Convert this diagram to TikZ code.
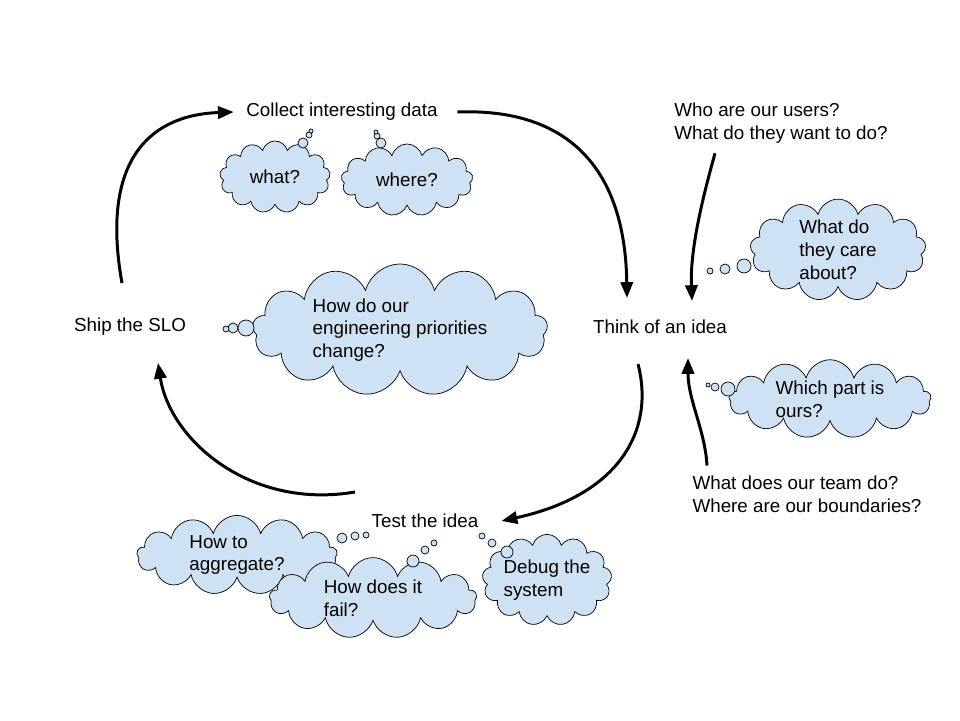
\documentclass[tikz,border=0pt]{standalone}
\usepackage{fontspec}
\setmainfont{Liberation Sans}
\usetikzlibrary{shapes.symbols,arrows.meta}
\definecolor{cloudblue}{HTML}{CFE2F3}
\tikzset{
  thought/.style={cloud, cloud puffs=13, cloud ignores aspect, draw=black, thin,
    fill=cloudblue, align=left, inner sep=0pt},
  bubble/.style={draw=black, thin, fill=cloudblue},
  flow/.style={line width=1.7pt, -{Triangle[length=9pt,width=7pt]}},
  label/.style={align=left, inner sep=1pt}
}
\begin{document}
\begin{tikzpicture}[x=0.02cm,y=-0.02cm,font=\fontsize{10.7}{13}\selectfont]
\useasboundingbox (0,0) rectangle (960,720);

% steps
\node[label] (collect) at (342,112) {Collect interesting data};
\node[label] (think) at (660,327) {Think of an idea};
\node[label] (test) at (425,521) {Test the idea};
\node[label] (ship) at (130,327) {Ship the SLO};
\node[label] (users) at (781,123) {Who are our users?\\What do they want to do?};
\node[label] (team) at (807,494) {What does our team do?\\Where are our boundaries?};

% clouds
\node[thought, minimum width=63pt, minimum height=41pt] (what) at (275,177) {what?};
\node[thought, minimum width=75pt, minimum height=41pt] (where) at (407,180) {where?};
\node[thought, minimum width=100pt, minimum height=57pt] (care) at (838,250) {What do\\they care\\about?};
\node[thought, minimum width=168pt, minimum height=51pt] (prio) at (400,330) {How do our\\engineering priorities\\change?};
\node[thought, minimum width=115pt, minimum height=40pt] (ours) at (830,399) {Which part is\\ours?};
\node[thought, minimum width=114pt, minimum height=36pt] (aggr) at (237,555) {How to\\aggregate?};
\node[thought, minimum width=118pt, minimum height=46pt] (fail) at (373,598) {How does it\\fail?};
\node[thought, minimum width=71pt, minimum height=52pt] (debug) at (547,580) {Debug the\\system};

% bubbles
\foreach \x/\y/\r in {303/143/5, 309/135/3, 311/131/2,
  381/143/5, 377/136/3, 376/132/2,
  744/266/7, 725/269/5, 710/271/3,
  246/328/8, 233/328/5, 226/329/3,
  728/389/7, 715/387/4, 708/385/2,
  342/538/5, 355/536/4, 366/535/3,
  413/561/6, 425/550/4, 434/543/3,
  507/552/6, 492/543/4, 482/536/3}
  \draw[bubble] (\x,\y) circle (\r);

% cycle
\draw[flow] ([shift={(-8,-33)}]ship.north) .. controls (100,160) and (150,115) .. ([xshift=-6]collect.west);
\draw[flow] ([xshift=10]collect.east) .. controls (560,108) and (625,160) .. ([shift={(-33,-20)}]think.north);
\draw[flow] ([shift={(-22,28)}]think.south) .. controls (655,430) and (620,495) .. ([xshift=12]test.east);
\draw[flow] ([shift={(-70,-20)}]test.north) .. controls (250,510) and (170,440) .. ([shift={(28,25)}]ship.south);
\draw[flow] ([shift={(-66,8)}]users.south) .. controls (702,200) and (690,250) .. ([shift={(32,-17)}]think.north);
\draw[flow] ([shift={(-100,-8)}]team.north) .. controls (705,430) and (688,400) .. ([shift={(28,22)}]think.south);
\end{tikzpicture}
\end{document}
